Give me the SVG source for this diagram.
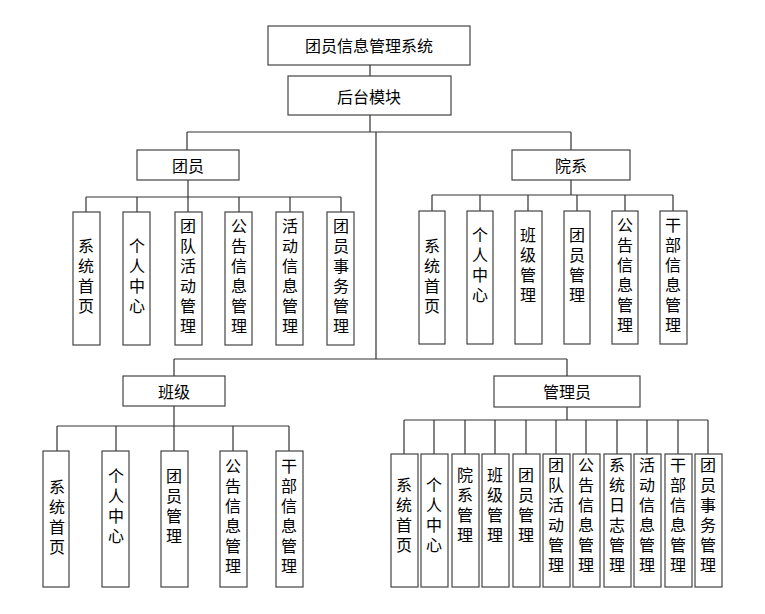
<svg xmlns="http://www.w3.org/2000/svg" width="765" height="614" viewBox="0 0 765 614">
<style>
rect{fill:#fff;stroke:#444;stroke-width:1.2}
#c path{fill:none;stroke:#333;stroke-width:1.2}
text{font-family:"Noto Sans CJK SC",sans-serif;font-size:16px;fill:#000;text-anchor:middle;dominant-baseline:central}
.v{writing-mode:vertical-rl;letter-spacing:4px;font-size:16px}
</style>
<rect width="765" height="614" style="fill:#fff;stroke:none"/>
<g id="c">
<path d="M370 65V76M370 115V132M187 132H571M376 132V359M187 132V150M571 132V150"/>
<path d="M188 180V197M86 197H341M86 197V212M137 197V212M188 197V212M239 197V212M290 197V212M341 197V212"/>
<path d="M571 180V195M432 195H673M432 195V211M480 195V211M528 195V211M577 195V211M625 195V211M673 195V211"/>
<path d="M174 359H567M174 359V376M567 359V376"/>
<path d="M174 406V426M57 426H289M57 426V451M116 426V451M174 426V451M233 426V451M289 426V451"/>
<path d="M567 407V420M404 420H708M404 420V454M434 420V454M465 420V454M495 420V454M526 420V454M556 420V454M586 420V454M617 420V454M647 420V454M678 420V454M708 420V454"/>
</g>
<g id="n0"><rect x="268" y="26" width="202" height="39"/><text x="369" y="45">团员信息管理系统</text></g>
<g id="n1"><rect x="288" y="76" width="163" height="39"/><text x="369" y="96">后台模块</text></g>
<g id="a"><rect x="137" y="150" width="102" height="30"/><text x="188" y="165">团员</text></g>
<g id="b"><rect x="512" y="150" width="118" height="30"/><text x="571" y="165">院系</text></g>
<g id="c1"><rect x="123" y="376" width="102" height="30"/><text x="174" y="391">班级</text></g>
<g id="d"><rect x="494" y="376" width="146" height="31"/><text x="567" y="391">管理员</text></g>
<g id="a1"><rect x="73" y="212" width="27" height="133"/><text class="v" x="86" y="278">系统首页</text></g>
<g id="a2"><rect x="123" y="212" width="27" height="133"/><text class="v" x="137" y="278">个人中心</text></g>
<g id="a3"><rect x="175" y="212" width="27" height="133"/><text class="v" x="188" y="278">团队活动管理</text></g>
<g id="a4"><rect x="225" y="212" width="27" height="133"/><text class="v" x="239" y="278">公告信息管理</text></g>
<g id="a5"><rect x="276" y="212" width="27" height="133"/><text class="v" x="290" y="278">活动信息管理</text></g>
<g id="a6"><rect x="327" y="212" width="27" height="133"/><text class="v" x="341" y="278">团员事务管理</text></g>
<g id="b1"><rect x="419" y="211" width="26" height="133"/><text class="v" x="432" y="278">系统首页</text></g>
<g id="b2"><rect x="467" y="211" width="26" height="133"/><text class="v" x="480" y="267">个人中心</text></g>
<g id="b3"><rect x="515" y="211" width="27" height="133"/><text class="v" x="528" y="267">班级管理</text></g>
<g id="b4"><rect x="564" y="211" width="26" height="133"/><text class="v" x="577" y="267">团员管理</text></g>
<g id="b5"><rect x="612" y="211" width="26" height="133"/><text class="v" x="625" y="277">公告信息管理</text></g>
<g id="b6"><rect x="660" y="211" width="27" height="133"/><text class="v" x="673" y="277">干部信息管理</text></g>
<g id="c2"><rect x="43" y="451" width="26" height="136"/><text class="v" x="57" y="519">系统首页</text></g>
<g id="c3"><rect x="102" y="451" width="27" height="136"/><text class="v" x="116" y="508">个人中心</text></g>
<g id="c4"><rect x="161" y="451" width="27" height="136"/><text class="v" x="174" y="508">团员管理</text></g>
<g id="c5"><rect x="220" y="451" width="27" height="136"/><text class="v" x="233" y="518">公告信息管理</text></g>
<g id="c6"><rect x="276" y="451" width="27" height="136"/><text class="v" x="289" y="518">干部信息管理</text></g>
<g id="d1"><rect x="391" y="454" width="27" height="133"/><text class="v" x="404" y="517">系统首页</text></g>
<g id="d2"><rect x="421" y="454" width="27" height="133"/><text class="v" x="434" y="517">个人中心</text></g>
<g id="d3"><rect x="452" y="454" width="27" height="133"/><text class="v" x="465" y="507">院系管理</text></g>
<g id="d4"><rect x="482" y="454" width="27" height="133"/><text class="v" x="495" y="507">班级管理</text></g>
<g id="d5"><rect x="513" y="454" width="27" height="133"/><text class="v" x="526" y="507">团员管理</text></g>
<g id="d6"><rect x="543" y="454" width="27" height="133"/><text class="v" x="556" y="517">团队活动管理</text></g>
<g id="d7"><rect x="573" y="454" width="27" height="133"/><text class="v" x="586" y="517">公告信息管理</text></g>
<g id="d8"><rect x="604" y="454" width="27" height="133"/><text class="v" x="617" y="517">系统日志管理</text></g>
<g id="d9"><rect x="634" y="454" width="27" height="133"/><text class="v" x="647" y="517">活动信息管理</text></g>
<g id="d10"><rect x="665" y="454" width="27" height="133"/><text class="v" x="678" y="517">干部信息管理</text></g>
<g id="d11"><rect x="695" y="454" width="27" height="133"/><text class="v" x="708" y="517">团员事务管理</text></g>
</svg>
